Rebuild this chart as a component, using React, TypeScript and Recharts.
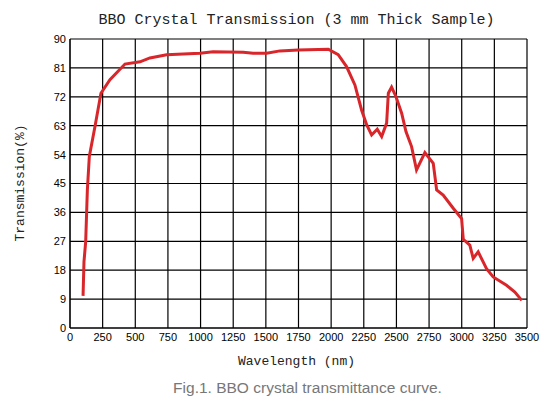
import React from "react";
import { LineChart, Line, XAxis, YAxis, CartesianGrid } from "recharts";

// wavelength (nm) and transmission (%)
const wavelength = [
  100, 107, 120, 133, 148, 191, 237, 306, 421, 536, 612, 740, 995, 1096, 1327, 1402, 1506, 1608, 1748, 1978,
  2054, 2118, 2182, 2233, 2272, 2310, 2353, 2387, 2425, 2438, 2463, 2496, 2540, 2573, 2616, 2654, 2718, 2782,
  2808, 2858, 2935, 2999, 3012, 3062, 3088, 3126, 3190, 3241, 3343, 3407, 3460,
];
const transmission = [
  10, 20.6, 26.8, 43, 53.4, 62.7, 73.1, 77.3, 82.2, 82.9, 84.1, 85.1, 85.6, 86.0, 85.9, 85.6, 85.6, 86.3, 86.6, 86.8,
  85.1, 81.4, 75.7, 67.9, 63.3, 60.1, 61.9, 59.6, 63.8, 73.1, 75.0, 72.1, 66.9, 61.2, 56.5, 49.2, 54.6, 51.3,
  43.0, 41.4, 37.3, 34.1, 27.6, 25.8, 21.7, 23.7, 18.5, 15.9, 13.3, 11.2, 8.6,
];
const xTicks = [0, 250, 500, 750, 1000, 1250, 1500, 1750, 2000, 2250, 2500, 2750, 3000, 3250, 3500];
const yTicks = [0, 9, 18, 27, 36, 45, 54, 63, 72, 81, 90];

const title = "BBO Crystal Transmission (3 mm Thick Sample)";
const xLabel = "Wavelength (nm)";
const yLabel = "Transmission(%)";
const caption = "Fig.1. BBO crystal transmittance curve.";

const data = wavelength.map((w, i) => ({ w, t: transmission[i] }));

const mono = "'Liberation Mono', 'DejaVu Sans Mono', monospace";
const tickStyle = { fontSize: 11, fill: "#000", fontFamily: "'Liberation Sans', Arial, sans-serif" };

const App: React.FC = () => {
  return (
    <div style={{ position: "absolute", left: 0, top: 0, width: 553, height: 403, background: "#fff" }}>
      <LineChart width={553} height={403} data={data} margin={{ top: 39, right: 26, left: 10, bottom: 45 }}>
        <CartesianGrid stroke="#000" strokeWidth={1.2} horizontalValues={yTicks} verticalValues={xTicks} />
        <XAxis
          dataKey="w"
          type="number"
          domain={[0, 3500]}
          ticks={xTicks}
          interval={0}
          height={30}
          tickSize={0}
          tickMargin={5}
          stroke="#000"
          tick={tickStyle}
        />
        <YAxis
          type="number"
          domain={[0, 90]}
          ticks={yTicks}
          interval={0}
          width={60}
          tickSize={0}
          tickMargin={4}
          stroke="#000"
          tick={tickStyle}
        />
        <Line
          type="linear"
          dataKey="t"
          stroke="#d8262b"
          strokeWidth={3}
          dot={false}
          isAnimationActive={false}
        />
      </LineChart>
      <div style={{ position: "absolute", left: 0, top: 12, width: 593, textAlign: "center", fontFamily: mono, fontSize: 15, color: "#222", lineHeight: "18px" }}>
        {title}
      </div>
      <div style={{ position: "absolute", left: 0, top: 354, width: 593, textAlign: "center", fontFamily: mono, fontSize: 13, color: "#222", lineHeight: "16px" }}>
        {xLabel}
      </div>
      <div
        style={{
          position: "absolute",
          left: 21,
          top: 183,
          transform: "translate(-50%, -50%) rotate(-90deg)",
          whiteSpace: "nowrap",
          fontFamily: mono,
          fontSize: 13,
          color: "#222",
          lineHeight: "16px",
        }}
      >
        {yLabel}
      </div>
      <div style={{ position: "absolute", left: 0, top: 379, width: 615, textAlign: "center", fontFamily: "'Liberation Sans', Arial, sans-serif", fontSize: 15.5, color: "#777", lineHeight: "18px" }}>
        {caption}
      </div>
    </div>
  );
};

export default App;
